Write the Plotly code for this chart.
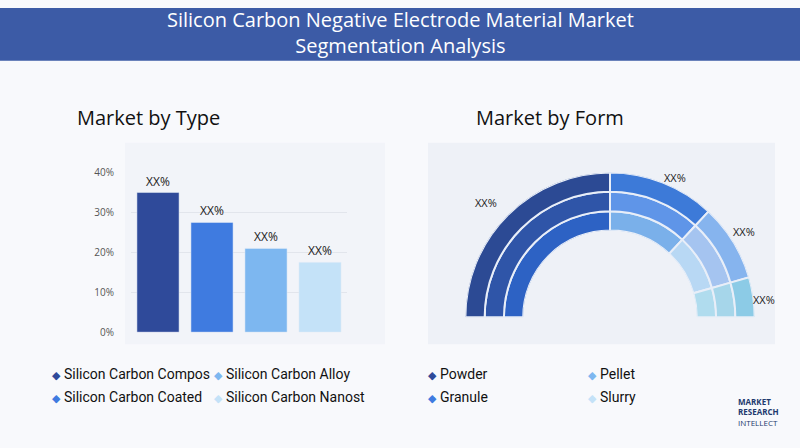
import plotly.graph_objects as go

types = ["Silicon Carbon Composite", "Silicon Carbon Alloy", "Silicon Carbon Coated", "Silicon Carbon Nanostructure"]
type_vals = [35, 27.5, 21, 17.5]
type_colors = ["#2f4a9a", "#3f7be0", "#7db7f0", "#c4e2f8"]
yticks = [0, 10, 20, 30, 40]
ytick_text = ["0%", "10%", "20%", "30%", "40%"]

forms = ["Powder", "Granule", "Pellet", "Slurry"]
form_starts = [90, 47, 16, 0]
form_ends = [180, 90, 47, 16]
ring_colors = [  # inner, middle, outer
    ["#2d62c4", "#2f55a8", "#2c4a94"],
    ["#7ab0ea", "#5f95e8", "#3d7ad8"],
    ["#b8d8f4", "#a5c4f0", "#86b4ee"],
    ["#b0dcee", "#a6d6ea", "#8ccbe6"],
]
legend_colors = ["#2f4a9a", "#3f7be0", "#7db7f0", "#c4e2f8"]

fig = go.Figure()
fig.add_trace(go.Bar(x=types, y=type_vals, marker_color=type_colors,
                     text=["XX%"] * 4, textposition="outside",
                     textfont=dict(size=12, color="#222"), cliponaxis=False, showlegend=False))

for ring in range(3):
    fig.add_trace(go.Barpolar(
        r=[1] * 4, base=[ring] * 4,
        theta=[(s + e) / 2 for s, e in zip(form_starts, form_ends)],
        width=[e - s for s, e in zip(form_starts, form_ends)],
        marker=dict(color=[c[ring] for c in ring_colors], line=dict(color="#e8eef8", width=2)),
        showlegend=False, hoverinfo="skip"))

W, H = 800, 448
def px(x): return x / W
def py(y): return min(1.0, max(0.0, 1 - ((y - 8) / 0.969) / H))

shapes = [
    dict(type="rect", xref="paper", yref="paper", x0=0, x1=1, y0=py(61), y1=1, fillcolor="#3c5ba6", line_width=0, layer="below"),
    dict(type="rect", xref="paper", yref="paper", x0=px(125), x1=px(385), y0=py(345), y1=py(143), fillcolor="#f2f4f9", line_width=0, layer="below"),
    dict(type="rect", xref="paper", yref="paper", x0=px(428), x1=px(775), y0=py(345), y1=py(143), fillcolor="#eef1f7", line_width=0, layer="below"),
]

ann = [
    dict(text="Silicon Carbon Negative Electrode Material Market<br>Segmentation Analysis", x=0.5, y=py(33), xref="paper", yref="paper",
         showarrow=False, font=dict(size=20, color="white", family="Open Sans"), yanchor="middle", xanchor="center"),
    dict(text="Market by Type", x=px(148), y=py(118), xref="paper", yref="paper", showarrow=False, font=dict(size=20, color="#111"), yanchor="middle", xanchor="center"),
    dict(text="Market by Form", x=px(550), y=py(118), xref="paper", yref="paper", showarrow=False, font=dict(size=20, color="#111"), yanchor="middle", xanchor="center"),
]
for t, x, y in [("XX%", 486, 203), ("XX%", 675, 178), ("XX%", 744, 232), ("XX%", 764, 300)]:
    ann.append(dict(text=t, x=px(x), y=py(y), xref="paper", yref="paper", showarrow=False, xanchor="center", yanchor="middle",
                    font=dict(size=11, color="#222")))

leg = [
    ("Silicon Carbon Compos", 56, 375, legend_colors[0]), ("Silicon Carbon Alloy", 218, 375, legend_colors[2]),
    ("Silicon Carbon Coated", 56, 398, legend_colors[1]), ("Silicon Carbon Nanost", 218, 398, legend_colors[3]),
    (forms[0], 432, 375, legend_colors[0]), (forms[2], 592, 375, legend_colors[2]),
    (forms[1], 432, 398, legend_colors[1]), (forms[3], 592, 398, legend_colors[3]),
]
for t, x, y, c in leg:
    ann.append(dict(text="◆", x=px(x), y=py(y), xref="paper", yref="paper", showarrow=False, xanchor="center", yanchor="middle",
                    font=dict(size=11, color=c)))
    ann.append(dict(text=t, x=px(x + 6), y=py(y), xref="paper", yref="paper", showarrow=False, xanchor="left", yanchor="middle",
                    font=dict(size=14, color="#111", family="Roboto")))
ann.append(dict(text="<b>MARKET<br>RESEARCH</b><br>INTELLECT", x=px(736), y=py(413), xref="paper", yref="paper", showarrow=False,
                xanchor="left", yanchor="middle", align="left", font=dict(size=8, color="#1e3a6e")))

fig.update_layout(
    width=W, height=H, margin=dict(l=0, r=0, t=0, b=0),
    paper_bgcolor="#f8f9fc", plot_bgcolor="rgba(0,0,0,0)",
    font=dict(family="Open Sans", color="#222"),
    shapes=shapes, annotations=ann, bargap=0.22,
    xaxis=dict(domain=[px(131), px(347)], showticklabels=False, showgrid=False, zeroline=False),
    yaxis=dict(domain=[py(333), py(173)], range=[0, 40], tickvals=yticks, ticktext=ytick_text,
               tickfont=dict(size=10, color="#555"), gridcolor="#e2e5ec", zeroline=False, ticks="outside",
               tickcolor="rgba(0,0,0,0)", ticklen=14),
    polar=dict(domain=dict(x=[px(465), px(755)], y=[py(318), py(173)]), sector=[0, 180], hole=0.6,
               bgcolor="rgba(0,0,0,0)",
               radialaxis=dict(range=[0, 3], visible=False),
               angularaxis=dict(visible=False, showgrid=False)),
)
fig.write_html("out.html", config={"displayModeBar": False}, post_script="document.body.style.margin='0';")
